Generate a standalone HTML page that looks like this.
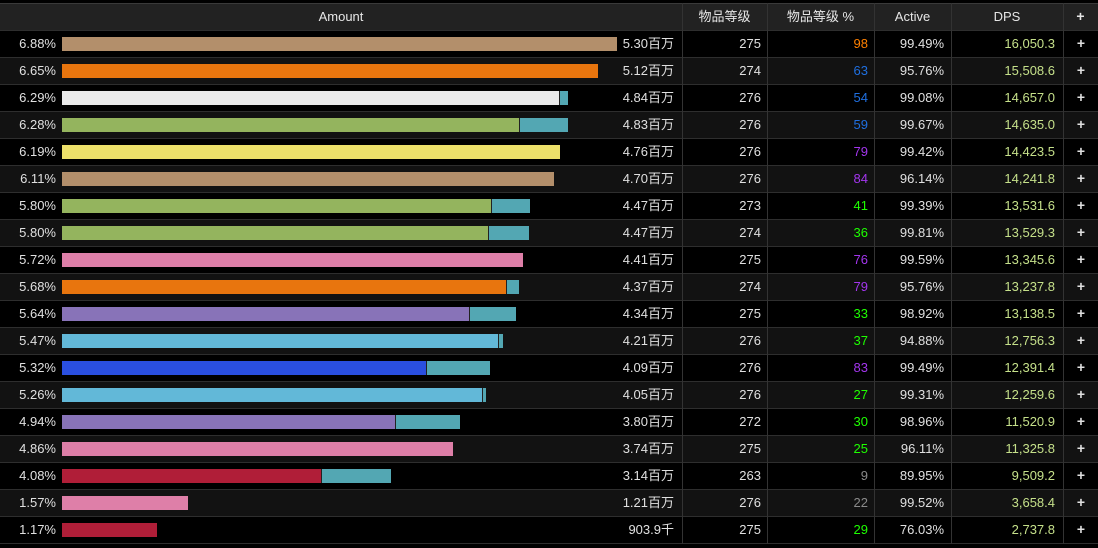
<!DOCTYPE html><html><head><meta charset="utf-8"><style>
body{margin:0;width:1098px;height:548px;background:#000;overflow:hidden;font-family:"Liberation Sans","Noto Sans CJK SC",sans-serif;font-size:13px;color:#e0e0e0;position:relative}
span{line-height:15px;height:15px;overflow:visible;white-space:nowrap}
.h{position:absolute;left:0;top:3px;width:1098px;height:27px;background:#222;border-top:1px solid #3a3a3a;box-sizing:border-box}
.h span{position:absolute;top:5px;text-align:center;color:#e6e6e6}
.r{position:absolute;left:0;width:1098px;height:27px;border-top:1px solid #2e2e2e;box-sizing:border-box}
.r span{position:absolute;top:5px;text-align:right}
.p{left:0;width:56px}.a{left:560px;width:114px}.i{left:700px;width:61px}.q{left:780px;width:88px}.c{left:880px;width:64px}.d{left:960px;width:95px;color:#c5e08a}.x{left:1064px;width:34px;text-align:center!important;font-size:14px;font-weight:bold}
.b{position:absolute;top:6px;height:14px}
.t{position:absolute;top:6px;height:14px;background:#53a7b3;border-left:1px solid #222}
.v{position:absolute;top:3px;width:1px;height:541px;background:#333}
.O{color:#ff8000}.B{color:#1f6fe0}.P{color:#a335ee}.G{color:#1eff00}.Y{color:#8a8a8a}
</style></head><body>
<div class="h"><span style="left:0;width:682px">Amount</span><span style="left:682px;width:85px">物品等级</span><span style="left:767px;width:107px">物品等级 %</span><span style="left:874px;width:77px">Active</span><span style="left:951px;width:112px">DPS</span><span style="left:1063px;width:35px;font-size:14px;font-weight:bold">+</span></div>
<div id="rows">
<div class="r" style="top:30px;background:#000"><span class="p">6.88%</span><div class="b" style="left:62px;width:555px;background:#b38f6b"></div><span class="a">5.30百万</span><span class="i">275</span><span class="q O">98</span><span class="c">99.49%</span><span class="d">16,050.3</span><span class="x">+</span></div>
<div class="r" style="top:57px;background:#121212"><span class="p">6.65%</span><div class="b" style="left:62px;width:536px;background:#e8750e"></div><span class="a">5.12百万</span><span class="i">274</span><span class="q B">63</span><span class="c">95.76%</span><span class="d">15,508.6</span><span class="x">+</span></div>
<div class="r" style="top:84px;background:#000"><span class="p">6.29%</span><div class="b" style="left:62px;width:497px;background:#eaeaea"></div><div class="t" style="left:559px;width:8px"></div><span class="a">4.84百万</span><span class="i">276</span><span class="q B">54</span><span class="c">99.08%</span><span class="d">14,657.0</span><span class="x">+</span></div>
<div class="r" style="top:111px;background:#121212"><span class="p">6.28%</span><div class="b" style="left:62px;width:457px;background:#94b45e"></div><div class="t" style="left:519px;width:48px"></div><span class="a">4.83百万</span><span class="i">276</span><span class="q B">59</span><span class="c">99.67%</span><span class="d">14,635.0</span><span class="x">+</span></div>
<div class="r" style="top:138px;background:#000"><span class="p">6.19%</span><div class="b" style="left:62px;width:498px;background:#ece06a"></div><span class="a">4.76百万</span><span class="i">276</span><span class="q P">79</span><span class="c">99.42%</span><span class="d">14,423.5</span><span class="x">+</span></div>
<div class="r" style="top:165px;background:#121212"><span class="p">6.11%</span><div class="b" style="left:62px;width:492px;background:#b38f6b"></div><span class="a">4.70百万</span><span class="i">276</span><span class="q P">84</span><span class="c">96.14%</span><span class="d">14,241.8</span><span class="x">+</span></div>
<div class="r" style="top:192px;background:#000"><span class="p">5.80%</span><div class="b" style="left:62px;width:429px;background:#94b45e"></div><div class="t" style="left:491px;width:38px"></div><span class="a">4.47百万</span><span class="i">273</span><span class="q G">41</span><span class="c">99.39%</span><span class="d">13,531.6</span><span class="x">+</span></div>
<div class="r" style="top:219px;background:#121212"><span class="p">5.80%</span><div class="b" style="left:62px;width:426px;background:#94b45e"></div><div class="t" style="left:488px;width:40px"></div><span class="a">4.47百万</span><span class="i">274</span><span class="q G">36</span><span class="c">99.81%</span><span class="d">13,529.3</span><span class="x">+</span></div>
<div class="r" style="top:246px;background:#000"><span class="p">5.72%</span><div class="b" style="left:62px;width:461px;background:#de7fa8"></div><span class="a">4.41百万</span><span class="i">275</span><span class="q P">76</span><span class="c">99.59%</span><span class="d">13,345.6</span><span class="x">+</span></div>
<div class="r" style="top:273px;background:#121212"><span class="p">5.68%</span><div class="b" style="left:62px;width:444px;background:#e8750e"></div><div class="t" style="left:506px;width:12px"></div><span class="a">4.37百万</span><span class="i">274</span><span class="q P">79</span><span class="c">95.76%</span><span class="d">13,237.8</span><span class="x">+</span></div>
<div class="r" style="top:300px;background:#000"><span class="p">5.64%</span><div class="b" style="left:62px;width:407px;background:#8873b8"></div><div class="t" style="left:469px;width:46px"></div><span class="a">4.34百万</span><span class="i">275</span><span class="q G">33</span><span class="c">98.92%</span><span class="d">13,138.5</span><span class="x">+</span></div>
<div class="r" style="top:327px;background:#121212"><span class="p">5.47%</span><div class="b" style="left:62px;width:436px;background:#62b8d8"></div><div class="t" style="left:498px;width:4px"></div><span class="a">4.21百万</span><span class="i">276</span><span class="q G">37</span><span class="c">94.88%</span><span class="d">12,756.3</span><span class="x">+</span></div>
<div class="r" style="top:354px;background:#000"><span class="p">5.32%</span><div class="b" style="left:62px;width:364px;background:#2a4fe0"></div><div class="t" style="left:426px;width:63px"></div><span class="a">4.09百万</span><span class="i">276</span><span class="q P">83</span><span class="c">99.49%</span><span class="d">12,391.4</span><span class="x">+</span></div>
<div class="r" style="top:381px;background:#121212"><span class="p">5.26%</span><div class="b" style="left:62px;width:420px;background:#62b8d8"></div><div class="t" style="left:482px;width:3px"></div><span class="a">4.05百万</span><span class="i">276</span><span class="q G">27</span><span class="c">99.31%</span><span class="d">12,259.6</span><span class="x">+</span></div>
<div class="r" style="top:408px;background:#000"><span class="p">4.94%</span><div class="b" style="left:62px;width:333px;background:#8873b8"></div><div class="t" style="left:395px;width:64px"></div><span class="a">3.80百万</span><span class="i">272</span><span class="q G">30</span><span class="c">98.96%</span><span class="d">11,520.9</span><span class="x">+</span></div>
<div class="r" style="top:435px;background:#121212"><span class="p">4.86%</span><div class="b" style="left:62px;width:391px;background:#de7fa8"></div><span class="a">3.74百万</span><span class="i">275</span><span class="q G">25</span><span class="c">96.11%</span><span class="d">11,325.8</span><span class="x">+</span></div>
<div class="r" style="top:462px;background:#000"><span class="p">4.08%</span><div class="b" style="left:62px;width:259px;background:#b01e38"></div><div class="t" style="left:321px;width:69px"></div><span class="a">3.14百万</span><span class="i">263</span><span class="q Y">9</span><span class="c">89.95%</span><span class="d">9,509.2</span><span class="x">+</span></div>
<div class="r" style="top:489px;background:#121212"><span class="p">1.57%</span><div class="b" style="left:62px;width:126px;background:#de7fa8"></div><span class="a">1.21百万</span><span class="i">276</span><span class="q Y">22</span><span class="c">99.52%</span><span class="d">3,658.4</span><span class="x">+</span></div>
<div class="r" style="top:516px;background:#000;border-bottom:1px solid #2e2e2e;height:28px"><span class="p">1.17%</span><div class="b" style="left:62px;width:95px;background:#b01e38"></div><span class="a">903.9千</span><span class="i">275</span><span class="q G">29</span><span class="c">76.03%</span><span class="d">2,737.8</span><span class="x">+</span></div>
</div>
<div class="v" style="left:682px"></div><div class="v" style="left:767px"></div><div class="v" style="left:874px"></div><div class="v" style="left:951px"></div><div class="v" style="left:1063px"></div>
</body></html>
